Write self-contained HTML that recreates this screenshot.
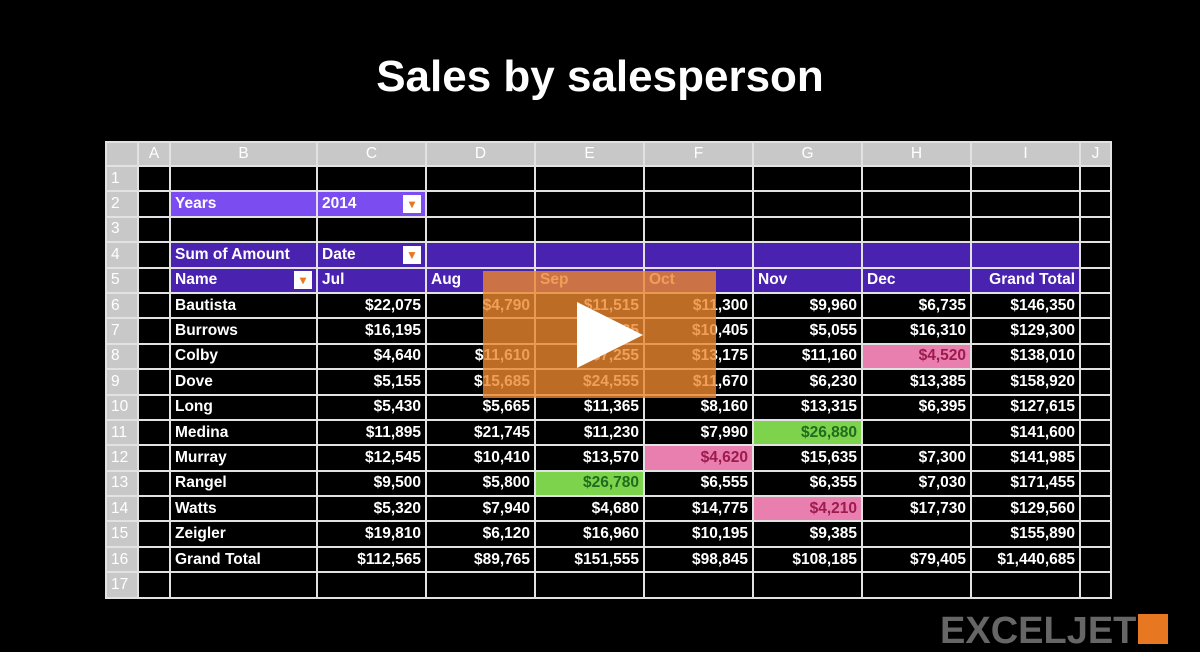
<!DOCTYPE html>
<html><head><style>
body{margin:0;width:1200px;height:630px;background:#000;overflow:hidden;position:relative;font-family:"Liberation Sans",sans-serif}
h1{position:absolute;top:52px;left:0;width:1200px;text-align:center;margin:0;color:#fff;font-size:44px;font-weight:bold}
table{position:absolute;left:105px;top:141px;border-collapse:collapse;table-layout:fixed}
td{border:2px solid #e2e2e2;height:23.4px;padding:0 4px;color:#fff;font-size:15.5px;font-weight:bold;white-space:nowrap;overflow:hidden;text-align:right;line-height:20px}
tr.h td{background:#c8c8c8;text-align:center;font-weight:normal;height:22px}
td.r{background:#c8c8c8;text-align:left;font-weight:normal;color:#fff}
td.l{text-align:left}
.lp{background:#7b4cf0}
.dp{background:#4a22b0}
.pk{background:#e87fae;color:#9c1a4c}
.gr{background:#7dd34c;color:#1f6b1f}
.btn{display:inline-block;float:right;width:18px;height:18px;background:#fff;color:#e87722;font-size:12px;text-align:center;line-height:18px;margin-top:1px}
#ov{position:absolute;left:483px;top:271px;width:233px;height:127px;background:rgba(235,135,45,0.8)}
#tri{position:absolute;left:577px;top:302px;width:0;height:0;border-top:33px solid transparent;border-bottom:33px solid transparent;border-left:66px solid #fff}
#logo{position:absolute;left:940px;top:610px;color:#666;font-size:38px;font-weight:bold;letter-spacing:0;line-height:42px}
#lo2{position:absolute;left:1138px;top:614px;width:30px;height:30px;background:#e87722}
</style></head><body>
<h1>Sales by salesperson</h1>
<table>
<colgroup><col style="width:32px"><col style="width:32px"><col style="width:147px"><col style="width:109px"><col style="width:109px"><col style="width:109px"><col style="width:109px"><col style="width:109px"><col style="width:109px"><col style="width:109px"><col style="width:31px"></colgroup>
<tr class="h"><td></td><td>A</td><td>B</td><td>C</td><td>D</td><td>E</td><td>F</td><td>G</td><td>H</td><td>I</td><td>J</td></tr>
<tr><td class="r">1</td><td></td><td></td><td></td><td></td><td></td><td></td><td></td><td></td><td></td><td></td></tr>
<tr><td class="r">2</td><td></td><td class="l lp">Years</td><td class="l lp">2014<span class="btn">▾</span></td><td></td><td></td><td></td><td></td><td></td><td></td><td></td></tr>
<tr><td class="r">3</td><td></td><td></td><td></td><td></td><td></td><td></td><td></td><td></td><td></td><td></td></tr>
<tr><td class="r">4</td><td></td><td class="l dp">Sum of Amount</td><td class="l dp">Date<span class="btn">▼</span></td><td class="dp"></td><td class="dp"></td><td class="dp"></td><td class="dp"></td><td class="dp"></td><td class="dp"></td><td></td></tr>
<tr><td class="r">5</td><td></td><td class="l dp">Name<span class="btn">▾</span></td><td class="l dp">Jul</td><td class="l dp">Aug</td><td class="l dp">Sep</td><td class="l dp">Oct</td><td class="l dp">Nov</td><td class="l dp">Dec</td><td class="dp">Grand Total</td><td></td></tr>
<tr><td class="r">6</td><td></td><td class="l">Bautista</td><td>$22,075</td><td>$4,790</td><td>$11,515</td><td>$11,300</td><td>$9,960</td><td>$6,735</td><td>$146,350</td><td></td></tr>
<tr><td class="r">7</td><td></td><td class="l">Burrows</td><td>$16,195</td><td></td><td>$9,535</td><td>$10,405</td><td>$5,055</td><td>$16,310</td><td>$129,300</td><td></td></tr>
<tr><td class="r">8</td><td></td><td class="l">Colby</td><td>$4,640</td><td>$11,610</td><td>$7,255</td><td>$13,175</td><td>$11,160</td><td class="pk">$4,520</td><td>$138,010</td><td></td></tr>
<tr><td class="r">9</td><td></td><td class="l">Dove</td><td>$5,155</td><td>$15,685</td><td>$24,555</td><td>$11,670</td><td>$6,230</td><td>$13,385</td><td>$158,920</td><td></td></tr>
<tr><td class="r">10</td><td></td><td class="l">Long</td><td>$5,430</td><td>$5,665</td><td>$11,365</td><td>$8,160</td><td>$13,315</td><td>$6,395</td><td>$127,615</td><td></td></tr>
<tr><td class="r">11</td><td></td><td class="l">Medina</td><td>$11,895</td><td>$21,745</td><td>$11,230</td><td>$7,990</td><td class="gr">$26,880</td><td></td><td>$141,600</td><td></td></tr>
<tr><td class="r">12</td><td></td><td class="l">Murray</td><td>$12,545</td><td>$10,410</td><td>$13,570</td><td class="pk">$4,620</td><td>$15,635</td><td>$7,300</td><td>$141,985</td><td></td></tr>
<tr><td class="r">13</td><td></td><td class="l">Rangel</td><td>$9,500</td><td>$5,800</td><td class="gr">$26,780</td><td>$6,555</td><td>$6,355</td><td>$7,030</td><td>$171,455</td><td></td></tr>
<tr><td class="r">14</td><td></td><td class="l">Watts</td><td>$5,320</td><td>$7,940</td><td>$4,680</td><td>$14,775</td><td class="pk">$4,210</td><td>$17,730</td><td>$129,560</td><td></td></tr>
<tr><td class="r">15</td><td></td><td class="l">Zeigler</td><td>$19,810</td><td>$6,120</td><td>$16,960</td><td>$10,195</td><td>$9,385</td><td></td><td>$155,890</td><td></td></tr>
<tr><td class="r">16</td><td></td><td class="l">Grand Total</td><td>$112,565</td><td>$89,765</td><td>$151,555</td><td>$98,845</td><td>$108,185</td><td>$79,405</td><td>$1,440,685</td><td></td></tr>
<tr><td class="r">17</td><td></td><td></td><td></td><td></td><td></td><td></td><td></td><td></td><td></td><td></td></tr>
</table>
<div id="ov"></div><div id="tri"></div>
<div id="logo">EXCELJET</div><div id="lo2"></div>
</body></html>
